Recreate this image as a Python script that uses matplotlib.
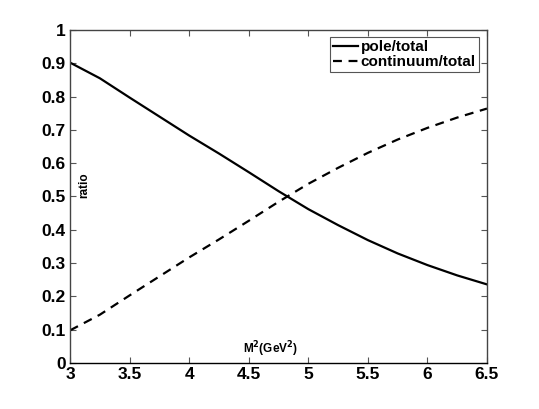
import matplotlib
matplotlib.use('Agg')
import matplotlib.pyplot as plt

# values
m2 = [3.0, 3.25, 3.5, 3.75, 4.0, 4.25, 4.5, 4.75, 5.0, 5.25, 5.5, 5.75, 6.0, 6.25, 6.5]
pole = [0.902, 0.855, 0.797, 0.740, 0.683, 0.629, 0.573, 0.516, 0.462, 0.414, 0.369, 0.329, 0.294, 0.263, 0.236]
cont = [0.098, 0.145, 0.203, 0.260, 0.317, 0.371, 0.427, 0.484, 0.538, 0.586, 0.631, 0.671, 0.706, 0.737, 0.764]

xticks = [3, 3.5, 4, 4.5, 5, 5.5, 6, 6.5]
xticklabels = ['3', '3.5', '4', '4.5', '5', '5.5', '6', '6.5']
yticks = [0, 0.1, 0.2, 0.3, 0.4, 0.5, 0.6, 0.7, 0.8, 0.9, 1]
yticklabels = ['0', '0.1', '0.2', '0.3', '0.4', '0.5', '0.6', '0.7', '0.8', '0.9', '1']

plt.rcParams['font.family'] = ['Liberation Sans', 'DejaVu Sans']
plt.rcParams['font.weight'] = 'bold'

fig = plt.figure(figsize=(5.39, 4.09), dpi=100)
ax = fig.add_axes([0.130, 0.1125, 0.7735, 0.8142])

ax.plot(m2, pole, 'k-', lw=1.6, label='pole/total')
ax.plot(m2, cont, 'k--', lw=1.6, dashes=(4, 3), label='continuum/total')

ax.set_xlim(3, 6.5)
ax.set_ylim(0, 1)
ax.set_xticks(xticks)
ax.set_xticklabels(xticklabels, fontsize=12.5, fontweight='bold')
ax.set_yticks(yticks)
ax.set_yticklabels(yticklabels, fontsize=12.5, fontweight='bold')
ax.tick_params(direction='in', length=4, width=0.8, colors='#555555', labelcolor='black',
               pad=3, top=True, right=True)
for s in ax.spines.values():
    s.set_linewidth(1.0)
    s.set_color('#444444')
ax.spines['bottom'].set_color('black')

# axis labels sit inside the axes like the reference
ax.text(0.035, 0.535, 'ratio', transform=ax.transAxes, rotation=90,
        ha='center', va='center', fontsize=8.5, fontweight='bold')
ax.text(0.48, 0.04, r'M$^\mathbf{2}$(GeV$^\mathbf{2}$)', transform=ax.transAxes,
        ha='center', va='center', fontsize=8.5, fontweight='bold')

leg = ax.legend(loc='upper right', bbox_to_anchor=(0.9805, 0.978), fontsize=11,
                handlelength=1.6, handletextpad=0.2, borderpad=0.2, labelspacing=0.05,
                borderaxespad=0.0, fancybox=False, framealpha=1.0)
leg.get_frame().set_edgecolor('#555555')
leg.get_frame().set_linewidth(0.8)
for t in leg.get_texts():
    t.set_fontweight('bold')

fig.savefig('out.png', dpi=100)
